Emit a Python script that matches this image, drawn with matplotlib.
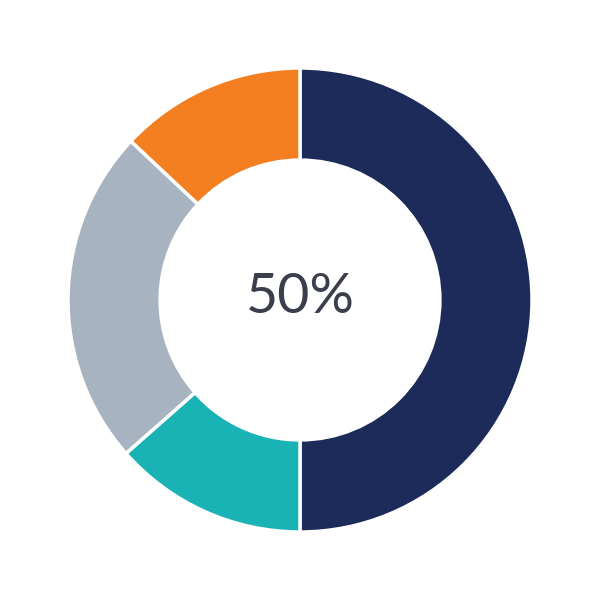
import matplotlib
matplotlib.use("Agg")
import matplotlib.pyplot as plt

labels = ["Navy", "Teal", "Gray", "Orange"]
values = [50, 13.5, 23.5, 13]
colors = ["#1c2b5a", "#1ab3b5", "#a8b3c2", "#f47f20"]
center_label = "50%"

fig = plt.figure(figsize=(6, 6), dpi=100)
ax = fig.add_axes([0, 0, 1, 1])
ax.pie(values, colors=colors, startangle=90, counterclock=False,
       radius=1.0, wedgeprops=dict(width=0.397, edgecolor="white", linewidth=2.5))
lim = 300 / 232
ax.set_xlim(-lim, lim)
ax.set_ylim(-lim, lim)
ax.set_aspect("equal")
ax.axis("off")
ax.text(0, 0.01, center_label, ha="center", va="center", fontsize=40,
        family=["Lato", "DejaVu Sans"], color="#3a3f4b")
fig.savefig("out.png", dpi=100, facecolor="white")
